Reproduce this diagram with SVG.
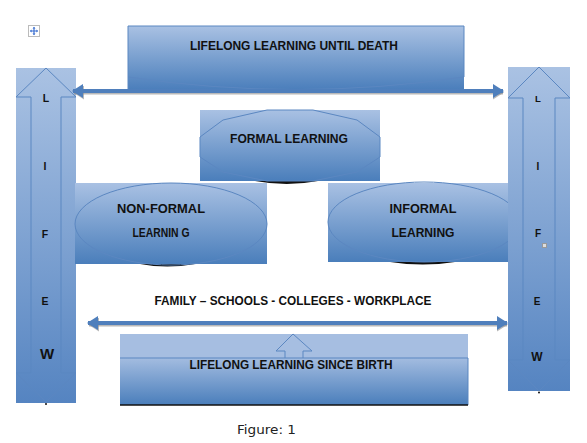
<svg xmlns="http://www.w3.org/2000/svg" width="587" height="443" viewBox="0 0 587 443">
<defs>
<linearGradient id="g" x1="0" y1="0" x2="0" y2="1">
<stop offset="0" stop-color="#a9c1e3"/>
<stop offset="1" stop-color="#4a7ebb"/>
</linearGradient>
<linearGradient id="gc" x1="0" y1="0" x2="0" y2="1">
<stop offset="0" stop-color="#aac2e3"/>
<stop offset="1" stop-color="#5584c1"/>
</linearGradient>
<linearGradient id="gb" x1="0" y1="0" x2="0" y2="1">
<stop offset="0" stop-color="#a3bce0"/>
<stop offset="1" stop-color="#4a7ebb"/>
</linearGradient>
<marker id="ah" viewBox="0 0 11 14" refX="10" refY="7" markerWidth="11" markerHeight="14" markerUnits="userSpaceOnUse" orient="auto-start-reverse">
<path d="M0,0 L11,7 L0,14 Z" fill="#4f7fbc"/>
</marker>
<marker id="ahs" viewBox="0 0 11 14" refX="10" refY="7" markerWidth="11" markerHeight="14" markerUnits="userSpaceOnUse" orient="auto-start-reverse">
<path d="M0,0 L11,7 L0,14 Z" fill="#8a8a8a" opacity="0.6"/>
</marker>
</defs>
<style>
.box{fill:url(#g);}
.ol{fill:none;stroke:#5b87c1;stroke-width:1;}
.t{font-family:"Liberation Sans",Arial,sans-serif;font-weight:bold;font-size:12px;fill:#111;text-anchor:middle;}
.lt{font-family:"Liberation Sans",Arial,sans-serif;font-weight:bold;font-size:10.5px;fill:#111;text-anchor:middle;}
.ar{stroke:#4f7fbc;stroke-width:4;fill:none;}
.sh{stroke:#8a8a8a;stroke-opacity:0.6;stroke-width:4;fill:none;}
.cap{font-family:"DejaVu Sans",Verdana,sans-serif;font-size:12px;fill:#222;}
</style>
<rect width="587" height="443" fill="#fff"/>

<g id="handle">
<rect x="28.5" y="25.5" width="11" height="11" fill="#fff" stroke="#bbb"/>
<path d="M34,27.5 V34.5 M30.5,31 H37.5" stroke="#3b6fd0" stroke-width="1.2"/>
<path d="M34,26.8 L32.5,28.6 H35.5 Z M34,35.2 L32.5,33.4 H35.5 Z M29.8,31 L31.6,29.5 V32.5 Z M38.2,31 L36.4,29.5 V32.5 Z" fill="#3b6fd0"/>
</g>

<g id="top-box">
<rect class="box" x="128" y="26" width="336" height="64"/>
<path class="ol" d="M128,90 V26 H464 V77"/>
<path class="ol" d="M128,77 Q296,102 464,77"/>
<text class="t" x="294" y="50" textLength="208" lengthAdjust="spacingAndGlyphs">LIFELONG LEARNING UNTIL DEATH</text>
</g>

<g id="formal">
<path d="M255,181 Q287,187 318,181 Z" fill="#111"/>
<rect class="box" x="200" y="110" width="180" height="71"/>
<path class="ol" d="M200,137 L223,120 L267,110 L313,110 L357,120 L380,137 L380,157 L357,172 L313,181 L267,181 L223,172 L200,157 Z"/>
<text class="t" x="289" y="143" textLength="118" lengthAdjust="spacingAndGlyphs">FORMAL LEARNING</text>
</g>

<g id="informal">
<path d="M390,262 Q423,267 455,262 Z" fill="#111"/>
<rect class="box" x="328" y="183" width="180" height="79"/>
<ellipse class="ol" cx="424" cy="222" rx="96" ry="40"/>
<text class="t" x="423" y="213" textLength="67" lengthAdjust="spacingAndGlyphs">INFORMAL</text>
<text class="t" x="423" y="237" textLength="63" lengthAdjust="spacingAndGlyphs">LEARNING</text>
</g>

<g id="left-life">
<rect x="16" y="68" width="60" height="335" fill="url(#gc)"/>
<path class="ol" d="M46,68 L76,97 L61,97 L61,373 L76,373 L46,402 L16,373 L31,373 L31,97 L16,97 Z"/>
<circle cx="46" cy="404" r="1" fill="#111"/>
<text class="lt" x="46" y="102">L</text>
<text class="lt" x="45" y="170">I</text>
<text class="lt" x="45" y="238">F</text>
<text class="lt" x="45" y="305">E</text>
<text class="lt" x="47" y="359" style="font-size:15px">W</text>
</g>

<g id="right-life">
<rect x="508" y="67" width="62" height="324" fill="url(#gc)"/>
<path class="ol" d="M539,67 L570,98 L555,98 L555,360 L570,360 L539,391 L508,360 L523,360 L523,98 L508,98 Z"/>
<circle cx="539" cy="392.5" r="1" fill="#111"/>
<rect x="542.5" y="243.5" width="4" height="4" fill="#ddd" stroke="#999"/>
<text class="lt" x="538" y="102" style="font-size:9.5px">L</text>
<text class="lt" x="538" y="170" style="font-size:10px">I</text>
<text class="lt" x="538" y="237" style="font-size:10px">F</text>
<text class="lt" x="537" y="305" style="font-size:10px">E</text>
<text class="lt" x="537" y="361" style="font-size:12px">W</text>
</g>

<g id="nonformal">
<path d="M140,264 Q167,269 195,264 Z" fill="#111"/>
<rect class="box" x="75" y="183" width="192" height="81"/>
<ellipse class="ol" cx="171" cy="224" rx="96" ry="41"/>
<text class="t" x="161" y="213" textLength="88" lengthAdjust="spacingAndGlyphs">NON-FORMAL</text>
<text class="t" x="161" y="237" textLength="57" lengthAdjust="spacingAndGlyphs">LEARNIN G</text>
</g>

<g id="bottom-box">
<rect x="120" y="334" width="348" height="71" fill="#a6bee1"/>
<path class="ol" d="M285,358 V351 H276 L293,334 L312,351 H303 V358"/>
<rect x="120" y="358" width="348" height="47" fill="url(#gb)"/>
<path class="ol" d="M120,358 H468 V405"/>
<line x1="120" y1="405" x2="468" y2="405" stroke="#111" stroke-width="1.5"/>
<text class="t" x="291" y="369" textLength="203" lengthAdjust="spacingAndGlyphs">LIFELONG LEARNING SINCE BIRTH</text>
</g>

<g id="connectors">
<line class="sh" x1="74" y1="92.5" x2="503" y2="92.5" marker-start="url(#ahs)" marker-end="url(#ahs)"/>
<line class="ar" x1="73" y1="91" x2="503" y2="91" marker-start="url(#ah)" marker-end="url(#ah)"/>
<line class="sh" x1="89" y1="324.5" x2="507" y2="324.5" marker-start="url(#ahs)" marker-end="url(#ahs)"/>
<line class="ar" x1="88" y1="323" x2="507" y2="323" marker-start="url(#ah)" marker-end="url(#ah)"/>
</g>

<text class="t" x="293" y="305" textLength="277" lengthAdjust="spacingAndGlyphs">FAMILY – SCHOOLS - COLLEGES - WORKPLACE</text>
<text class="cap" x="237" y="434" textLength="59" lengthAdjust="spacingAndGlyphs">Figure: 1</text>
</svg>
